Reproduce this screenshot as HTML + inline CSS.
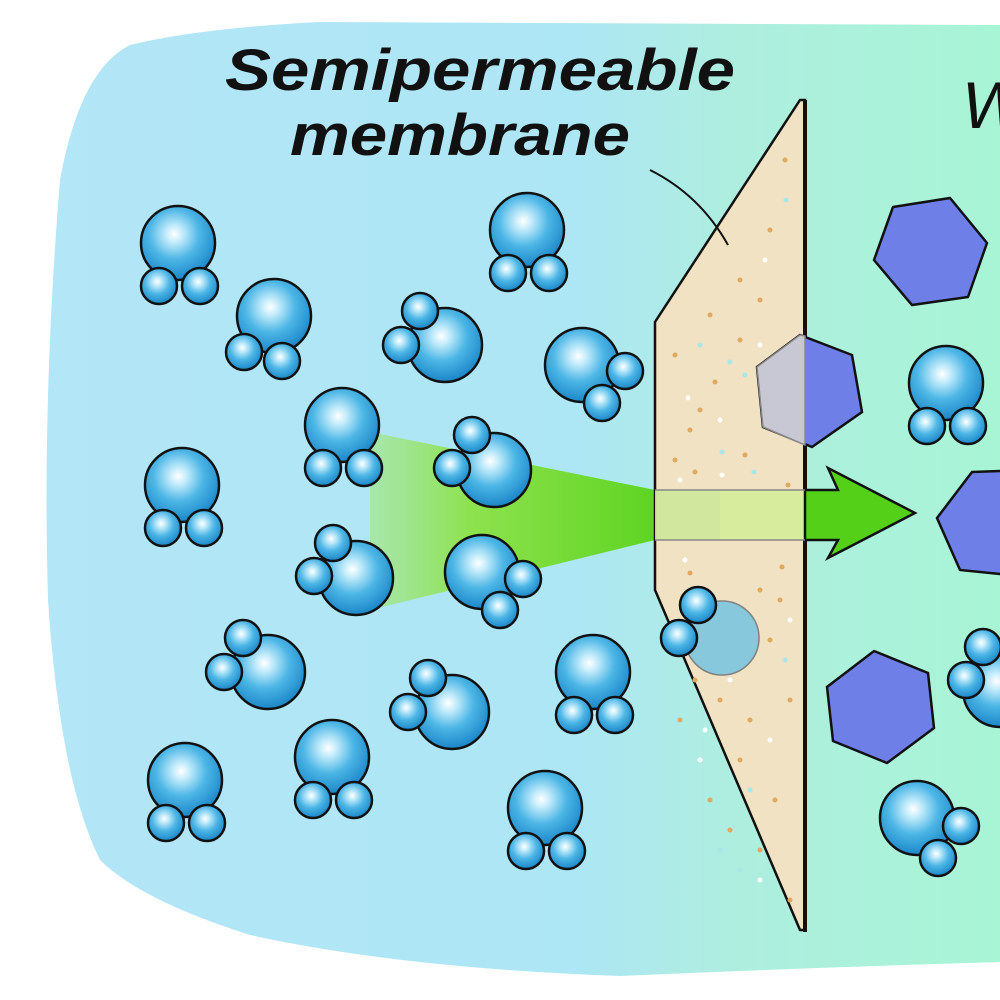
<!DOCTYPE html>
<html><head><meta charset="utf-8"><style>
html,body{margin:0;padding:0;background:#fff;width:1000px;height:1000px;overflow:hidden}
svg{display:block}
</style></head><body>
<svg width="1000" height="1000" viewBox="0 0 1000 1000" xmlns="http://www.w3.org/2000/svg">
<defs>
<linearGradient id="bg" x1="0" y1="0" x2="1" y2="0">
<stop offset="0" stop-color="#b3e6f6"/>
<stop offset="0.55" stop-color="#ade6f5"/>
<stop offset="0.72" stop-color="#aeeedf"/>
<stop offset="1" stop-color="#a8f5d6"/>
</linearGradient>
<radialGradient id="ball" cx="0.45" cy="0.38" r="0.62">
<stop offset="0" stop-color="#ffffff"/>
<stop offset="0.18" stop-color="#c4ecfb"/>
<stop offset="0.55" stop-color="#4cb6e6"/>
<stop offset="1" stop-color="#1b86c8"/>
</radialGradient>
<linearGradient id="arr" x1="0" y1="0" x2="1" y2="0">
<stop offset="0" stop-color="#a6e6a0" stop-opacity="0.85"/>
<stop offset="0.35" stop-color="#8ee24e"/>
<stop offset="1" stop-color="#5fd422"/>
</linearGradient>
<g id="mA"><circle cx="0" cy="0" r="37" fill="url(#ball)" stroke="#111" stroke-width="2.5"/><circle cx="-19" cy="43" r="18" fill="url(#ball)" stroke="#111" stroke-width="2.5"/><circle cx="22" cy="43" r="18" fill="url(#ball)" stroke="#111" stroke-width="2.5"/></g>
</defs>
<path d="M130,45 Q200,28 320,22 L1000,25 L1000,962 Q800,968 620,976 Q400,968 250,935 Q140,900 100,860 Q60,780 48,600 Q42,400 60,180 Q80,70 130,45 Z" fill="url(#bg)"/>
<path d="M370,432 L655,490 L655,540 L370,610 Z" fill="url(#arr)"/>
<path d="M800,100 L655,322 L655,590 L800,930 L805,930 L805,100 Z" fill="#f0e2c2" stroke="#111" stroke-width="2.5"/>
<line x1="805" y1="100" x2="805" y2="932" stroke="#111" stroke-width="4"/>
<g fill="#e0a860">
<circle cx="710" cy="315" r="2.5"/><circle cx="740" cy="340" r="2.5"/><circle cx="675" cy="355" r="2.5"/><circle cx="715" cy="382" r="2.5"/><circle cx="690" cy="430" r="2.5"/><circle cx="745" cy="455" r="2.5"/><circle cx="695" cy="472" r="2.5"/><circle cx="788" cy="485" r="2.5"/><circle cx="775" cy="405" r="2.5"/><circle cx="748" cy="513" r="2.5"/><circle cx="690" cy="573" r="2.5"/><circle cx="782" cy="567" r="2.5"/><circle cx="770" cy="640" r="2.5"/><circle cx="680" cy="720" r="2.5"/><circle cx="740" cy="760" r="2.5"/><circle cx="710" cy="800" r="2.5"/><circle cx="760" cy="850" r="2.5"/><circle cx="790" cy="900" r="2.5"/><circle cx="770" cy="230" r="2.5"/><circle cx="785" cy="160" r="2.5"/><circle cx="740" cy="280" r="2.5"/><circle cx="790" cy="700" r="2.5"/>
<circle cx="760" cy="300" r="2.5"/><circle cx="700" cy="410" r="2.5"/><circle cx="760" cy="590" r="2.5"/><circle cx="720" cy="700" r="2.5"/><circle cx="695" cy="680" r="2.5"/><circle cx="750" cy="720" r="2.5"/><circle cx="775" cy="800" r="2.5"/><circle cx="730" cy="830" r="2.5"/><circle cx="780" cy="600" r="2.5"/><circle cx="675" cy="460" r="2.5"/>
</g>
<g fill="#ffffff"><circle cx="760" cy="345" r="2.5"/><circle cx="688" cy="398" r="2.5"/><circle cx="720" cy="420" r="2.5"/><circle cx="722" cy="475" r="2.5"/><circle cx="685" cy="560" r="2.5"/><circle cx="745" cy="538" r="2.5"/><circle cx="730" cy="680" r="2.5"/><circle cx="770" cy="740" r="2.5"/><circle cx="700" cy="760" r="2.5"/><circle cx="765" cy="260" r="2.5"/><circle cx="680" cy="480" r="2.5"/><circle cx="790" cy="620" r="2.5"/><circle cx="705" cy="730" r="2.5"/><circle cx="760" cy="880" r="2.5"/></g>
<g fill="#a8e6e8"><circle cx="700" cy="345" r="2.5"/><circle cx="730" cy="362" r="2.5"/><circle cx="745" cy="375" r="2.5"/><circle cx="722" cy="452" r="2.5"/><circle cx="754" cy="472" r="2.5"/><circle cx="685" cy="600" r="2.5"/><circle cx="750" cy="790" r="2.5"/><circle cx="720" cy="850" r="2.5"/><circle cx="786" cy="200" r="2.5"/><circle cx="670" cy="520" r="2.5"/><circle cx="785" cy="660" r="2.5"/><circle cx="740" cy="870" r="2.5"/></g>
<polygon points="800,335 852,355 862,412 812,447 763,427 757,367" fill="#6f7fe8" stroke="#111" stroke-width="2.5"/>
<polygon points="800,335 805,336 805,445 763,427 757,367" fill="#c8c8d4" stroke="#888" stroke-width="1.5"/>
<path d="M655,490 L805,490 L805,540 L655,540 Z" fill="#cde89a" opacity="0.9"/>
<path d="M720,490 L805,490 L805,540 L720,540 Z" fill="#d8ec9e"/>
<path d="M805,490 L838,490 L828,468 L915,513 L828,558 L838,540 L805,540 Z" fill="#55d018" stroke="#111" stroke-width="2.5"/>
<path d="M655,490 L805,490 M655,540 L805,540" stroke="#888" stroke-width="1.5"/>
<g stroke="#111" stroke-width="2.5" fill="#6f7fe8">
<polygon points="893,207 950,198 987,243 968,297 912,305 874,260"/>
<polygon points="972,472 1030,470 1040,520 1010,575 960,570 937,518"/>
<polygon points="874,651 928,673 934,728 887,763 833,741 827,687"/>
</g>
<use href="#mA" x="178" y="243"/>
<use href="#mA" x="527" y="230"/>
<use href="#mA" x="182" y="485"/>
<use href="#mA" x="185" y="780"/>
<use href="#mA" x="545" y="808"/>
<use href="#mA" x="593" y="672"/>
<use href="#mA" x="342" y="425"/>
<use href="#mA" x="332" y="757"/>
<use href="#mA" x="946" y="383"/>
<g stroke="#111" stroke-width="2.5" fill="url(#ball)">
<circle cx="274" cy="316" r="37"/><circle cx="244" cy="352" r="18"/><circle cx="282" cy="361" r="18"/>
<circle cx="445" cy="345" r="37"/><circle cx="401" cy="345" r="18"/><circle cx="420" cy="311" r="18"/>
<circle cx="582" cy="365" r="37"/><circle cx="625" cy="371" r="18"/><circle cx="602" cy="403" r="18"/>
<circle cx="494" cy="470" r="37"/><circle cx="452" cy="468" r="18"/><circle cx="472" cy="435" r="18"/>
<circle cx="356" cy="578" r="37"/><circle cx="314" cy="576" r="18"/><circle cx="333" cy="543" r="18"/>
<circle cx="482" cy="572" r="37"/><circle cx="523" cy="579" r="18"/><circle cx="500" cy="610" r="18"/>
<circle cx="268" cy="672" r="37"/><circle cx="224" cy="672" r="18"/><circle cx="243" cy="638" r="18"/>
<circle cx="452" cy="712" r="37"/><circle cx="408" cy="712" r="18"/><circle cx="428" cy="678" r="18"/>
<circle cx="917" cy="818" r="37"/><circle cx="961" cy="826" r="18"/><circle cx="938" cy="858" r="18"/>
<circle cx="1000" cy="690" r="37"/><circle cx="966" cy="680" r="18"/><circle cx="983" cy="647" r="18"/>
</g>
<circle cx="722" cy="638" r="37" fill="#7cc6e0" stroke="#777" stroke-width="1.5" opacity="0.9"/>
<g stroke="#111" stroke-width="2.5" fill="url(#ball)">
<circle cx="679" cy="638" r="18"/><circle cx="698" cy="605" r="18"/>
</g>
<path d="M650,170 Q700,195 728,245" fill="none" stroke="#111" stroke-width="2"/>
<g font-family="Liberation Sans, sans-serif" font-style="italic" font-weight="bold" font-size="58" fill="#111">
<text x="225" y="90" textLength="510" lengthAdjust="spacingAndGlyphs">Semipermeable</text>
<text x="290" y="155" textLength="340" lengthAdjust="spacingAndGlyphs">membrane</text>
<text x="962" y="128" font-size="66" font-weight="normal">W</text>
</g>
</svg>
</body></html>
